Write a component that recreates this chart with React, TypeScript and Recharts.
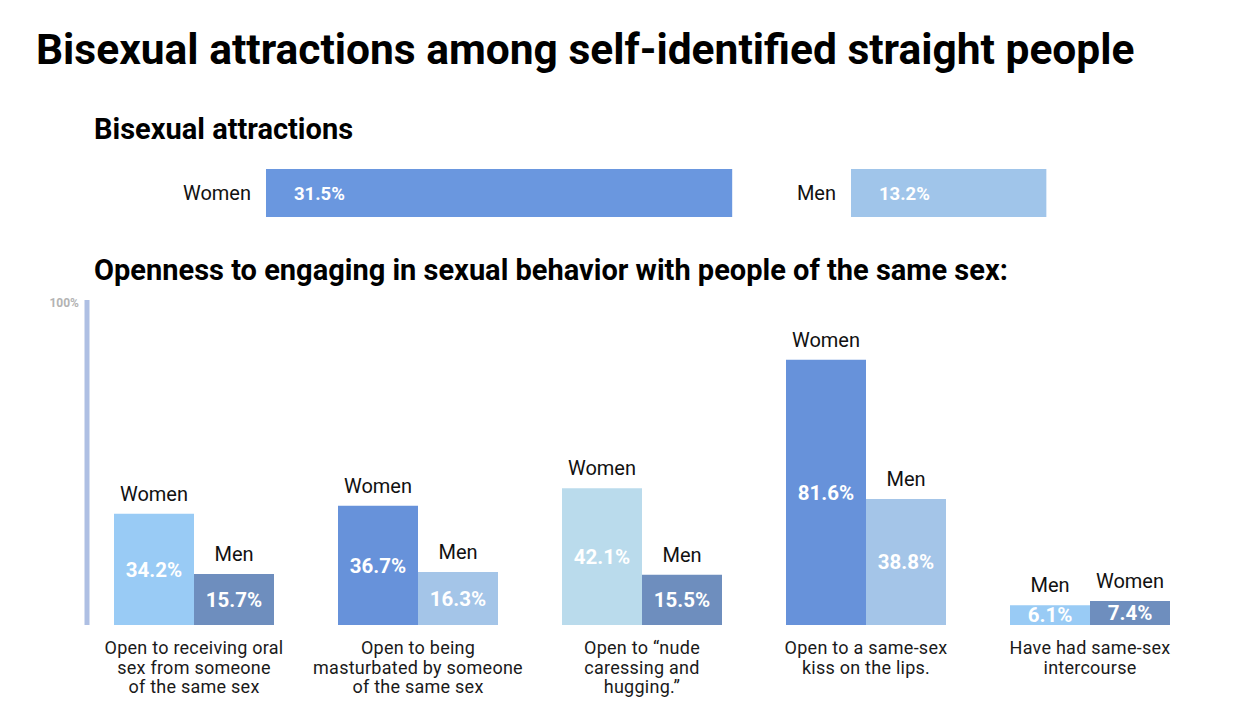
import { BarChart, Bar, XAxis, YAxis, LabelList, Cell } from "recharts";

// Share of self-identified straight respondents reporting bisexual attractions
const ATTRACTION_GROUPS = ["Women", "Men"];
const ATTRACTION_VALUES = [31.5, 13.2];

// Openness to same-sex behaviour, two bars per category
const CATEGORY_LINES = [
  ["Open to receiving oral", "sex from someone", "of the same sex"],
  ["Open to being", "masturbated by someone", "of the same sex"],
  ["Open to \u201cnude", "caressing and", "hugging.\u201d"],
  ["Open to a same-sex", "kiss on the lips."],
  ["Have had same-sex", "intercourse"],
];
const FIRST_NAMES = ["Women", "Women", "Women", "Women", "Men"];
const FIRST_VALUES = [34.2, 36.7, 42.1, 81.6, 6.1];
const SECOND_NAMES = ["Men", "Men", "Men", "Men", "Women"];
const SECOND_VALUES = [15.7, 16.3, 15.5, 38.8, 7.4];

const FIRST_COLORS = ["#99cbf5", "#6792da", "#badbec", "#6792da", "#99cbf5"];
const SECOND_COLORS = ["#6e8ebe", "#a4c5e8", "#6e8ebe", "#a4c5e8", "#6e8ebe"];
const ATTRACTION_COLORS = ["#6a97df", "#a0c5ea"];

const FONT = "Roboto, 'Noto Sans', sans-serif";

// px per percentage point, shared by both horizontal bars
const PX_PER_POINT = 14.8;

const behaviourData = CATEGORY_LINES.map((lines, i) => ({
  category: String(i),
  firstName: FIRST_NAMES[i],
  first: FIRST_VALUES[i],
  secondName: SECOND_NAMES[i],
  second: SECOND_VALUES[i],
}));

const pct = (v: any) => `${Number(v).toFixed(1)}%`;

const CategoryTick = ({ x, y, payload }: any) => {
  const lines = CATEGORY_LINES[Number(payload.value)] ?? [];
  return (
    <text x={x} y={y} textAnchor="middle" fontFamily={FONT} fontSize={18} letterSpacing={0.25} fill="#1a1a1a">
      {lines.map((l, i) => (
        <tspan key={i} x={x} dy={i === 0 ? 21 : 19.5}>{l}</tspan>
      ))}
    </text>
  );
};

function AttractionBar({ idx, domainMax, left, labelWidth }: { idx: number; domainMax: number; left: number; labelWidth: number }) {
  const plotWidth = domainMax * PX_PER_POINT;
  const data = [{ group: ATTRACTION_GROUPS[idx], value: ATTRACTION_VALUES[idx] }];
  return (
    <div style={{ position: "absolute", left, top: 153 }}>
      <BarChart
        width={labelWidth + plotWidth}
        height={80}
        data={data}
        layout="vertical"
        margin={{ top: 6, right: 0, bottom: 6, left: 0 }}
      >
        <XAxis type="number" domain={[0, domainMax]} hide />
        <YAxis
          type="category"
          dataKey="group"
          width={labelWidth}
          axisLine={false}
          tickLine={false}
          tickMargin={9}
          tick={{ fontFamily: FONT, fontSize: 20, fill: "#111" }}
        />
        <Bar dataKey="value" fill={ATTRACTION_COLORS[idx]} barSize={48} isAnimationActive={false}>
          <LabelList
            dataKey="value"
            position="insideLeft"
            offset={28}
            formatter={pct}
            style={{ fontFamily: FONT, fontSize: 18.5, fontWeight: 700, fill: "#fff" }}
          />
        </Bar>
      </BarChart>
    </div>
  );
}

export default function App() {
  const nameStyle = { fontFamily: FONT, fontSize: 20, fill: "#111" };
  const valueStyle = { fontFamily: FONT, fontSize: 20.5, fontWeight: 700, fill: "#fff" };

  return (
    <div style={{ position: "absolute", left: 0, top: 0, width: 1243, height: 724, background: "#fff", fontFamily: FONT, overflow: "hidden" }}>
      <div style={{ position: "absolute", left: 36, top: 25, fontSize: 42.5, fontWeight: 700, color: "#000", whiteSpace: "nowrap", lineHeight: "50px" }}>
        Bisexual attractions among self-identified straight people
      </div>
      <div style={{ position: "absolute", left: 94, top: 112, fontSize: 29, fontWeight: 700, color: "#000", whiteSpace: "nowrap", lineHeight: "34px" }}>
        Bisexual attractions
      </div>

      <AttractionBar idx={0} domainMax={32} left={150} labelWidth={116} />
      <AttractionBar idx={1} domainMax={20} left={771} labelWidth={80} />

      <div style={{ position: "absolute", left: 94, top: 253, fontSize: 29, fontWeight: 700, color: "#000", whiteSpace: "nowrap", lineHeight: "34px" }}>
        Openness to engaging in sexual behavior with people of the same sex:
      </div>

      <div style={{ position: "absolute", left: 0, top: 280 }}>
        <BarChart
          width={1243}
          height={444}
          data={behaviourData}
          margin={{ top: 20, right: 41, bottom: 4, left: 0 }}
          barGap={0}
        >
          <XAxis
            dataKey="category"
            height={95}
            axisLine={false}
            tickLine={false}
            interval={0}
            padding={{ left: -5, right: 0 }}
            tick={<CategoryTick />}
          />
          <YAxis
            domain={[0, 100]}
            ticks={[100]}
            width={87}
            axisLine={{ stroke: "#aebfe3", strokeWidth: 5 }}
            tickLine={false}
            tickMargin={2}
            tickFormatter={(v) => `${v}%`}
            tick={{ fontFamily: FONT, fontSize: 12, fontWeight: 700, fill: "#b3b3b3", dy: 3 }}
          />
          <Bar dataKey="first" barSize={80} isAnimationActive={false}>
            {behaviourData.map((_, i) => (
              <Cell key={i} fill={FIRST_COLORS[i]} />
            ))}
            <LabelList dataKey="first" position="center" formatter={pct} style={valueStyle} />
            <LabelList dataKey="firstName" position="top" offset={13} style={nameStyle} />
          </Bar>
          <Bar dataKey="second" barSize={80} isAnimationActive={false}>
            {behaviourData.map((_, i) => (
              <Cell key={i} fill={SECOND_COLORS[i]} />
            ))}
            <LabelList dataKey="second" position="center" formatter={pct} style={valueStyle} />
            <LabelList dataKey="secondName" position="top" offset={13} style={nameStyle} />
          </Bar>
        </BarChart>
      </div>
    </div>
  );
}
